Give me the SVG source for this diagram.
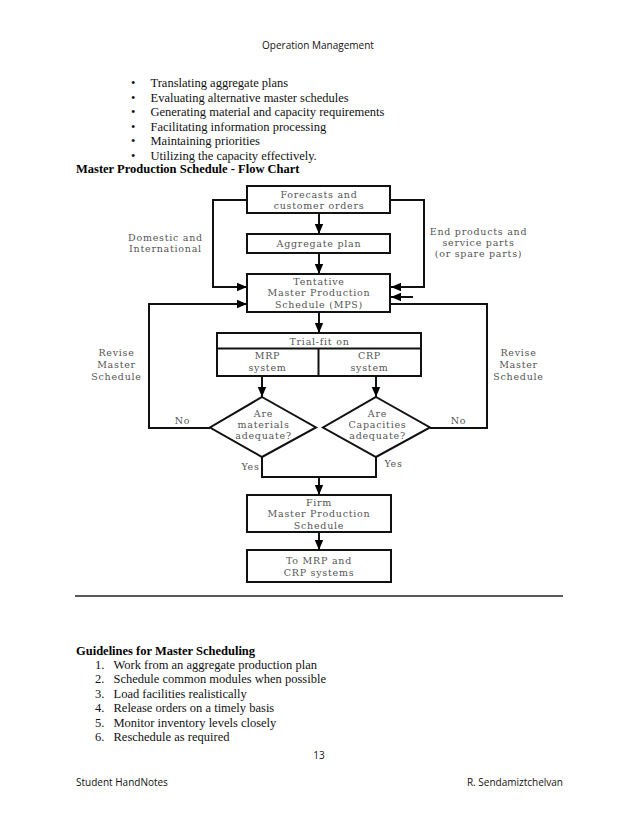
<svg xmlns="http://www.w3.org/2000/svg" width="638" height="826" viewBox="0 0 638 826">
<defs>
<marker id="ah" markerUnits="userSpaceOnUse" markerWidth="10" markerHeight="10" viewBox="0 0 10 10" refX="10" refY="5" orient="auto">
<path d="M0,0.8 L10,5 L0,9.2 Z" fill="#000"/>
</marker>
<style>
.hdr{font-family:"Open Sans","Liberation Sans",sans-serif;font-size:10px;fill:#111}
.body{font-family:"Liberation Serif","Times New Roman",serif;font-size:12.5px;fill:#111}
.bold{font-family:"Liberation Serif","Times New Roman",serif;font-size:12.5px;font-weight:bold;fill:#000}
.box{fill:#fff;stroke:#111;stroke-width:2}
.fc{font-family:"DejaVu Serif","Liberation Serif",serif;font-size:9.5px;letter-spacing:0.75px;fill:#555;text-anchor:middle}
.con{fill:none;stroke:#111;stroke-width:2}
.arr{marker-end:url(#ah)}
</style>
</defs>
<rect width="638" height="826" fill="#fff"/>

<text class="hdr" x="318" y="49" text-anchor="middle">Operation Management</text>

<g id="bullets" class="body">
<text x="131" y="87">•</text><text x="150.5" y="87">Translating aggregate plans</text>
<text x="131" y="101.5">•</text><text x="150.5" y="101.5">Evaluating alternative master schedules</text>
<text x="131" y="116">•</text><text x="150.5" y="116">Generating material and capacity requirements</text>
<text x="131" y="130.5">•</text><text x="150.5" y="130.5">Facilitating information processing</text>
<text x="131" y="145">•</text><text x="150.5" y="145">Maintaining priorities</text>
<text x="131" y="159.5">•</text><text x="150.5" y="159.5">Utilizing the capacity effectively.</text>
</g>
<text class="bold" x="76" y="172.5">Master Production Schedule - Flow Chart</text>

<g id="connectors">
<line class="con arr" x1="319" y1="213" x2="319" y2="234"/>
<line class="con arr" x1="319" y1="253" x2="319" y2="274"/>
<polyline class="con arr" points="247,200 213,200 213,287 247,287"/>
<polyline class="con arr" points="390,200 424,200 424,287 391,287"/>
<line class="con arr" x1="413" y1="297" x2="391" y2="297"/>
<line class="con arr" x1="319" y1="312" x2="319" y2="333"/>
<line class="con arr" x1="262" y1="376" x2="262" y2="397"/>
<line class="con arr" x1="376" y1="376" x2="376" y2="397"/>
<polyline class="con arr" points="210,428 149,428 149,304 247,304"/>
<polyline class="con" points="430,428 487,428 487,304 390,304"/>
<polyline class="con" points="262,457 262,477 376,477 376,457"/>
<line class="con arr" x1="319" y1="477" x2="319" y2="495"/>
<line class="con arr" x1="319" y1="532" x2="319" y2="550"/>
</g>

<g id="forecasts">
<rect class="box" x="247" y="186" width="143" height="27"/>
<text class="fc" x="319" y="197.5">Forecasts and</text>
<text class="fc" x="319" y="208.5">customer orders</text>
</g>
<g id="aggregate">
<rect class="box" x="247" y="234" width="143" height="19"/>
<text class="fc" x="319" y="247">Aggregate plan</text>
</g>
<g id="tentative">
<rect class="box" x="247" y="274" width="143" height="38"/>
<text class="fc" x="319" y="284.5">Tentative</text>
<text class="fc" x="319" y="296">Master Production</text>
<text class="fc" x="319" y="307.5">Schedule (MPS)</text>
</g>
<g id="trialfit">
<rect class="box" x="217" y="333" width="204" height="43"/>
<line class="con" x1="217" y1="348.5" x2="421" y2="348.5"/>
<line class="con" x1="318.5" y1="348.5" x2="318.5" y2="376"/>
<text class="fc" x="319.5" y="344.5">Trial-fit on</text>
<text class="fc" x="267.5" y="359">MRP</text>
<text class="fc" x="267.5" y="370.5">system</text>
<text class="fc" x="369.5" y="359">CRP</text>
<text class="fc" x="369.5" y="370.5">system</text>
</g>
<g id="materials">
<polygon class="box" points="262,397 316,427.5 262,457 210,427.5"/>
<text class="fc" x="263.5" y="416.5">Are</text>
<text class="fc" x="263.5" y="427.5">materials</text>
<text class="fc" x="263.5" y="438.5">adequate?</text>
</g>
<g id="capacities">
<polygon class="box" points="376,397 430,427.5 376,457 323,427.5"/>
<text class="fc" x="377.5" y="416.5">Are</text>
<text class="fc" x="377.5" y="427.5">Capacities</text>
<text class="fc" x="377.5" y="438.5">adequate?</text>
</g>
<g id="firm">
<rect class="box" x="247" y="495" width="144" height="37"/>
<text class="fc" x="319" y="505.5">Firm</text>
<text class="fc" x="319" y="517">Master Production</text>
<text class="fc" x="319" y="528.5">Schedule</text>
</g>
<g id="tomrp">
<rect class="box" x="247" y="550" width="144" height="32"/>
<text class="fc" x="319" y="564">To MRP and</text>
<text class="fc" x="319" y="575.5">CRP systems</text>
</g>

<g id="labels">
<text class="fc" x="165.5" y="240.5">Domestic and</text>
<text class="fc" x="165.5" y="251.5">International</text>
<text class="fc" x="478.5" y="234.5">End products and</text>
<text class="fc" x="478.5" y="245.5">service parts</text>
<text class="fc" x="478.5" y="256.5">(or spare parts)</text>
<text class="fc" x="116.5" y="355.5">Revise</text>
<text class="fc" x="116.5" y="367.5">Master</text>
<text class="fc" x="116.5" y="379.5">Schedule</text>
<text class="fc" x="518.5" y="355.5">Revise</text>
<text class="fc" x="518.5" y="367.5">Master</text>
<text class="fc" x="518.5" y="379.5">Schedule</text>
<text class="fc" x="182.5" y="423.5">No</text>
<text class="fc" x="458.5" y="423.5">No</text>
<text class="fc" x="250.5" y="469.5">Yes</text>
<text class="fc" x="393.5" y="466.5">Yes</text>
</g>

<line x1="75" y1="596" x2="563" y2="596" stroke="#222" stroke-width="1.5"/>

<text class="bold" x="76" y="654.5">Guidelines for Master Scheduling</text>
<g id="guidelines" class="body">
<text x="95" y="668.5">1.</text><text x="113.5" y="668.5">Work from an aggregate production plan</text>
<text x="95" y="683">2.</text><text x="113.5" y="683">Schedule common modules when possible</text>
<text x="95" y="697.5">3.</text><text x="113.5" y="697.5">Load facilities realistically</text>
<text x="95" y="712">4.</text><text x="113.5" y="712">Release orders on a timely basis</text>
<text x="95" y="726.5">5.</text><text x="113.5" y="726.5">Monitor inventory levels closely</text>
<text x="95" y="741">6.</text><text x="113.5" y="741">Reschedule as required</text>
</g>
<text class="hdr" x="319" y="759" text-anchor="middle">13</text>
<text class="hdr" x="76" y="786">Student HandNotes</text>
<text class="hdr" x="563" y="786" text-anchor="end">R. Sendamiztchelvan</text>
</svg>
